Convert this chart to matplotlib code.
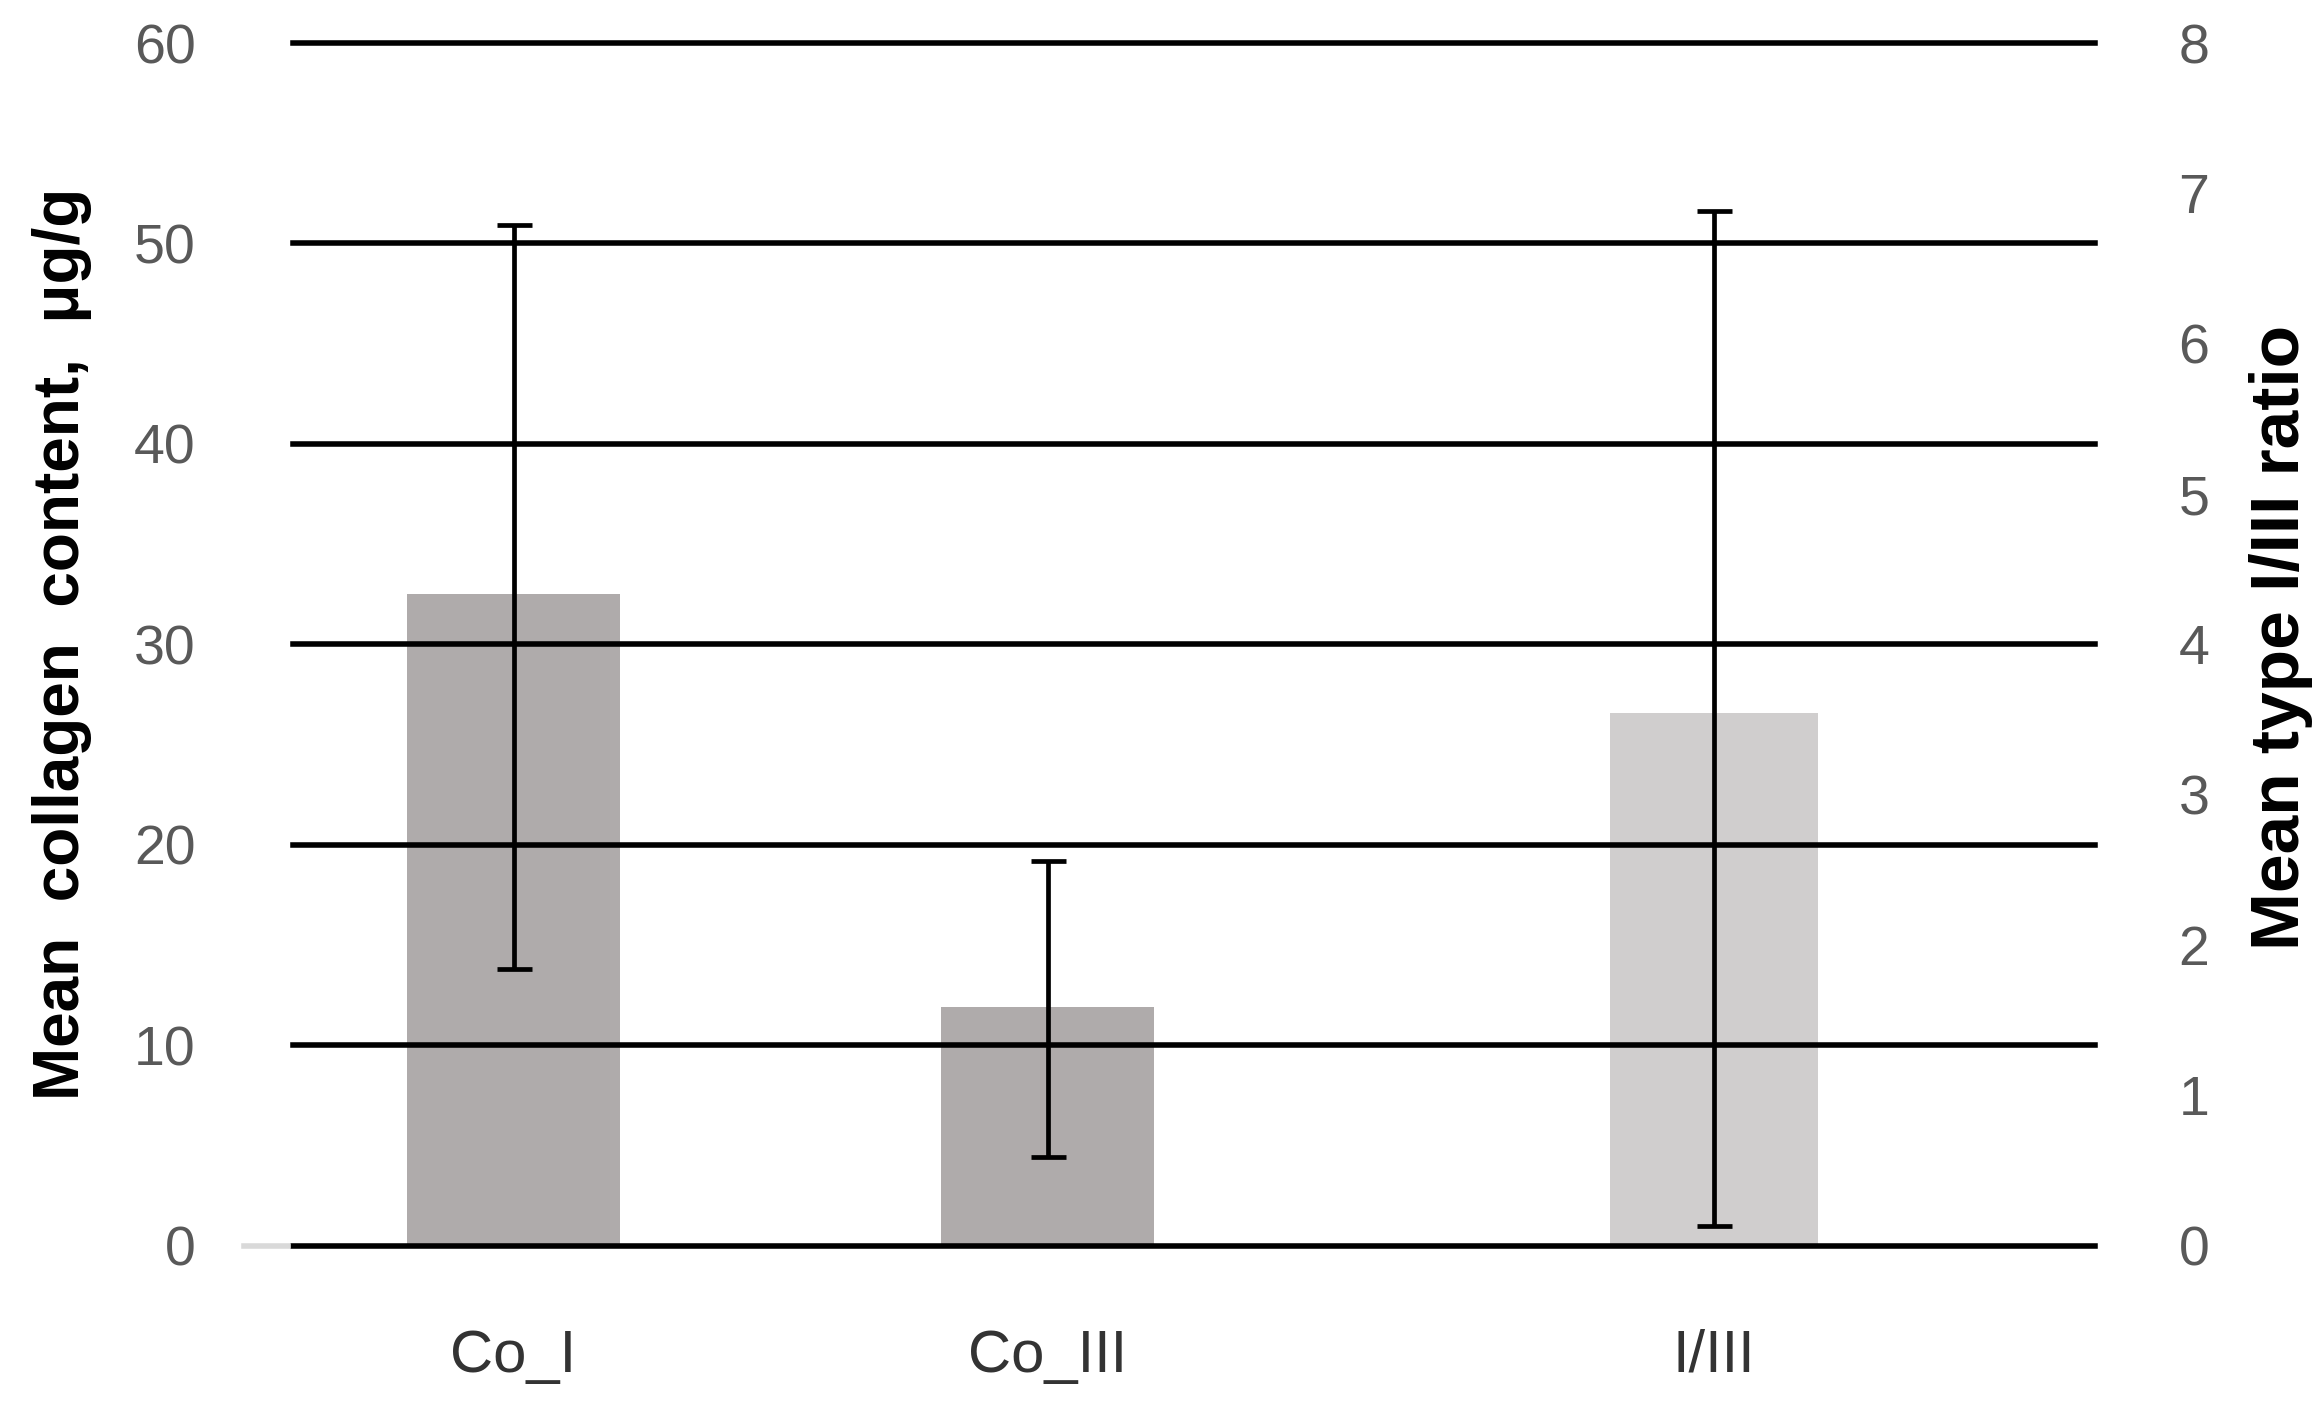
import numpy as np
import matplotlib.pyplot as plt

plt.rcParams['font.family'] = ['Liberation Sans', 'DejaVu Sans']

# data
categories = ['Co_I', 'Co_III', 'I/III']
content_means = [32.5, 11.9]      # mean collagen content, ug/g (left axis)
content_err_low = [18.7, 7.5]
content_err_high = [18.4, 7.3]
ratio_mean = [3.54]               # mean type I/III ratio (right axis)
ratio_err_low = [3.41]
ratio_err_high = [3.34]
left_ticks = [0, 10, 20, 30, 40, 50, 60]
right_ticks = [0, 1, 2, 3, 4, 5, 6, 7, 8]

# category positions (the ratio bar sits further right, as in the original)
positions = [0, 1, 2.248]

fig = plt.figure(figsize=(11.61, 7.085), dpi=200)
ax = fig.add_axes([0.1262, 0.1210, 0.7761, 0.8486])
ax2 = ax.twinx()

# secondary axis: I/III ratio
ax2.bar(positions[2], ratio_mean, width=0.39, color='#d0cece', zorder=1)
ax2.errorbar(positions[2], ratio_mean, yerr=[ratio_err_low, ratio_err_high],
             fmt='none', ecolor='black', elinewidth=1.7, capsize=6.3,
             capthick=1.7, zorder=3)

# primary axis: collagen content
ax.bar(positions[:2], content_means, width=0.4, color='#afabab', zorder=1)
for y in left_ticks:
    ax.axhline(y, color='black', lw=2.0, clip_on=False, zorder=2)
ax.axhline(0, xmin=-0.027, xmax=-0.003, color='#d9d9d9', lw=2.0,
           clip_on=False, zorder=2)
ax.errorbar(positions[:2], content_means,
            yerr=[content_err_low, content_err_high], fmt='none',
            ecolor='black', elinewidth=1.7, capsize=6.3, capthick=1.7,
            zorder=3)

# keep the primary axis on top so gridlines cross the ratio bar
ax.set_zorder(ax2.get_zorder() + 1)
ax.patch.set_visible(False)

ax.set_xlim(-0.413, 2.962)
ax.set_ylim(0, 60)
ax2.set_ylim(0, 8)
ax.set_yticks(left_ticks)
ax2.set_yticks(right_ticks)
ax.set_xticks(positions, categories)

for a in (ax, ax2):
    for s in a.spines.values():
        s.set_visible(False)

ax.tick_params(axis='y', length=0, pad=35, labelsize=20, labelcolor='#595959')
ax2.tick_params(axis='y', length=0, pad=30, labelsize=20, labelcolor='#595959')
ax.tick_params(axis='x', length=0, pad=30, labelsize=21.5, labelcolor='#333333')

ax.set_ylabel('Mean  collagen  content,  \u03bcg/g', fontsize=23,
              fontweight='bold', color='black', va='center')
ax.yaxis.set_label_coords(-0.128, 0.5)
ax2.set_ylabel('Mean type I/III ratio', fontsize=25, fontweight='bold',
               color='black', rotation=90, va='center')
ax2.yaxis.set_label_coords(1.103, 0.506)

fig.savefig('out.png', dpi=200)
